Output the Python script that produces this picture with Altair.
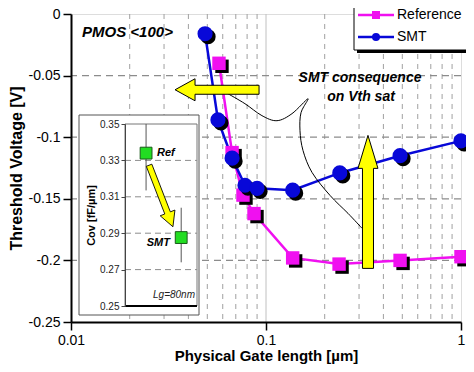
import altair as alt
import pandas as pd

# ---------------- data ----------------
lg_ref = [0.0574, 0.067, 0.0762, 0.0868, 0.137, 0.237, 0.487, 1.0]
vth_ref = [-0.040, -0.1125, -0.147, -0.162, -0.198, -0.203, -0.200, -0.197]
lg_smt = [0.0487, 0.0567, 0.067, 0.078, 0.090, 0.137, 0.239, 0.487, 1.0]
vth_smt = [-0.016, -0.086, -0.117, -0.139, -0.1415, -0.143, -0.129, -0.115, -0.103]

series_names = ["Reference", "SMT"]

inset_labels = ["Ref", "SMT"]
inset_pos = [1, 2]
inset_cov = [0.334, 0.2876]
inset_lo = [0.3135, 0.274]
inset_hi = [0.35, 0.304]

x_ticks = [0.01, 0.1, 1]
x_minor = [0.02, 0.03, 0.04, 0.05, 0.06, 0.07, 0.08, 0.09,
           0.2, 0.3, 0.4, 0.5, 0.6, 0.7, 0.8, 0.9]
x_mid = [0.1]
y_ticks = [0, -0.05, -0.1, -0.15, -0.2, -0.25]
y_grid = [-0.05, -0.1, -0.15, -0.2]
inset_ticks = [0.25, 0.27, 0.29, 0.31, 0.33, 0.35]
inset_grid = [0.27, 0.29, 0.31, 0.33]

# callout curve (data units)
callout_x = [0.0638, 0.078, 0.0953, 0.1138, 0.1359, 0.1642,
             0.1512, 0.1494, 0.1548, 0.1722, 0.2128, 0.2633, 0.3106]
callout_y = [-0.0647, -0.0728, -0.0825, -0.0866, -0.0809, -0.0688,
             -0.0801, -0.0947, -0.1108, -0.1286, -0.1472, -0.1618, -0.1739]
left_arrow_at = ([0.0561], [-0.0615])
up_arrow_at = ([0.3334], [-0.1525])

# ---------------- style ----------------
FONT = "Liberation Sans"
MAGENTA = "#F010F0"
BLUE = "#0808D8"
YELLOW = "#FFFF00"
GREEN = "#22DD22"

LEFT_ARROW = "M1,-0.107 L-0.524,-0.107 L-0.524,-0.262 L-1,0 L-0.524,0.262 L-0.524,0.107 L1,0.107 Z"
UP_ARROW = "M-0.083,1 L-0.083,-0.504 L-0.15,-0.504 L0,-1 L0.15,-0.504 L0.083,-0.504 L0.083,1 Z"
DOWN_ARROW = "M-0.09,-1 L0.09,-1 L0.09,0.55 L0.24,0.55 L0,1 L-0.24,0.55 L-0.09,0.55 Z"

xs = alt.Scale(type="log", domain=[0.01, 1], nice=False)
ys = alt.Scale(domain=[-0.25, 0], nice=False, zero=False)

x_axis = alt.Axis(orient="bottom", values=x_ticks, title="Physical Gate length [µm]",
                  labelExpr="format(datum.value, '~g')", grid=False, zindex=1,
                  tickSize=8, tickWidth=1.5, tickColor="black",
                  labelPadding=3, titlePadding=1, labelFontSize=14, titleFontSize=15,
                  titleFontWeight="bold", domainColor="black", domainWidth=2,
                  labelColor="black", titleColor="black", labelFont=FONT, titleFont=FONT,
                  labelFlush=False)
y_axis = alt.Axis(orient="left", values=y_ticks, title="Threshold Voltage [V]",
                  labelExpr="datum.value == 0 ? '0' : '-' + format(-datum.value, '~g')",
                  grid=False, zindex=1, tickSize=8, tickWidth=1.5, tickColor="black",
                  labelPadding=3, titlePadding=4, labelFontSize=14, titleFontSize=16,
                  titleFontWeight="bold", domainColor="black", domainWidth=2,
                  labelColor="black", titleColor="black", labelFont=FONT, titleFont=FONT,
                  labelFlush=False)


def X(f):
    return alt.X(f, type="quantitative", scale=xs, axis=x_axis)


def Y(f):
    return alt.Y(f, type="quantitative", scale=ys, axis=y_axis)


one = pd.DataFrame({"k": [0]})

# ---------------- grid ----------------
vg = alt.Chart(pd.DataFrame({"lg": x_minor})).mark_rule(
    color="#a0a0a0", strokeDash=[5, 5], strokeWidth=1).encode(
    x=alt.X("lg:Q", scale=xs, axis=None))
vm = alt.Chart(pd.DataFrame({"lg": x_mid})).mark_rule(
    color="#c0c0c0", strokeWidth=1).encode(x=alt.X("lg:Q", scale=xs, axis=None))
hg = alt.Chart(pd.DataFrame({"v": y_grid})).mark_rule(
    color="#8c8c8c", strokeDash=[7, 5], strokeWidth=1.3).encode(
    y=alt.Y("v:Q", scale=ys, axis=None))
grid_layer = alt.layer(vg, vm, hg)

# ---------------- inset ----------------
inset_df = pd.DataFrame({"label": inset_labels, "pos": inset_pos, "cov": inset_cov,
                         "lo": inset_lo, "hi": inset_hi})
xi = alt.Scale(domain=[0.4, 2.45], range=[54, 126])
yi = alt.Scale(domain=[0.25, 0.35], range=[292, 110], nice=False, zero=False)
yi_axis = alt.Axis(orient="left", offset=-54, values=inset_ticks, format=".2f",
                   title="Cov [fF/µm]", grid=False, zindex=2, tickSize=4, tickColor="#444",
                   labelFontSize=10, titleFontSize=11, titleFontWeight="bold",
                   titlePadding=3, labelPadding=2, domainColor="#444", domainWidth=1,
                   labelColor="#222", titleColor="black", labelFont=FONT, titleFont=FONT)


def XI(f):
    return alt.X(f, type="quantitative", scale=xi, axis=None)


def YI(f):
    return alt.Y(f, type="quantitative", scale=yi, axis=yi_axis)


outer_box = alt.Chart(one).mark_rect(fill="white", stroke="#555", strokeWidth=1).encode(
    x=alt.value(8), x2=alt.value(128), y=alt.value(101), y2=alt.value(301))
inner_box = alt.Chart(one).mark_rect(fill="white", stroke="#777", strokeWidth=1).encode(
    x=alt.value(54), x2=alt.value(126), y=alt.value(110), y2=alt.value(292))
igrid = alt.Chart(pd.DataFrame({"g": inset_grid})).mark_rule(
    color="#8c8c8c", strokeDash=[6, 4], strokeWidth=1).encode(
    y=YI("g"), x=alt.value(54), x2=alt.value(126))
ibottom = alt.Chart(one).mark_rule(color="black", strokeWidth=2).encode(
    x=alt.value(54), x2=alt.value(126), y=alt.value(292))
ierr = alt.Chart(inset_df).mark_rule(color="#555", strokeWidth=1).encode(
    x=XI("pos"), y=YI("lo"), y2="hi")
ipts = alt.Chart(inset_df).mark_point(shape="square", filled=True, fill=GREEN,
                                      stroke="#1a5a1a", strokeWidth=1, size=140,
                                      opacity=1).encode(x=XI("pos"), y=YI("cov"))
iarrow = alt.Chart(one).mark_point(shape=DOWN_ARROW, filled=True, fill=YELLOW,
                                   stroke="black", strokeWidth=0.8, size=4356,
                                   angle=338.8, opacity=1).encode(
    x=alt.value(90), y=alt.value(182))
t_ref = alt.Chart(one).mark_text(text="Ref", font=FONT, fontSize=11, fontWeight="bold",
                                 fontStyle="italic", align="left", baseline="middle",
                                 color="black").encode(x=alt.value(86), y=alt.value(139))
t_smt = alt.Chart(one).mark_text(text="SMT", font=FONT, fontSize=11, fontWeight="bold",
                                 fontStyle="italic", align="right", baseline="middle",
                                 color="black").encode(x=alt.value(99), y=alt.value(229))
t_lg = alt.Chart(one).mark_text(text="Lg=80nm", font=FONT, fontSize=10,
                                fontStyle="italic", align="right", baseline="middle",
                                color="#222").encode(x=alt.value(124), y=alt.value(281))
inset_layer = alt.layer(outer_box, inner_box, igrid, ibottom, ierr, iarrow, ipts,
                        t_ref, t_smt, t_lg)

# ---------------- main data ----------------
ref_df = pd.DataFrame({"lg": lg_ref, "vth": vth_ref})
smt_df = pd.DataFrame({"lg": lg_smt, "vth": vth_smt})
call_df = pd.DataFrame({"x": callout_x, "y": callout_y, "i": list(range(len(callout_x)))})

ref_line = alt.Chart(ref_df).mark_line(color=MAGENTA, strokeWidth=2.5).encode(
    x=X("lg"), y=Y("vth"))
ref_sh = alt.Chart(ref_df).mark_point(shape="square", filled=True, color="black",
                                      size=180, opacity=1).encode(
    x=X("lg"), y=Y("vth"), xOffset=alt.value(3), yOffset=alt.value(3))
ref_pts = alt.Chart(ref_df).mark_point(shape="square", filled=True, color=MAGENTA,
                                       size=180, opacity=1).encode(x=X("lg"), y=Y("vth"))
smt_line = alt.Chart(smt_df).mark_line(color=BLUE, strokeWidth=2.5).encode(
    x=X("lg"), y=Y("vth"))
smt_sh = alt.Chart(smt_df).mark_point(shape="circle", filled=True, color="black",
                                      size=230, opacity=1).encode(
    x=X("lg"), y=Y("vth"), xOffset=alt.value(3), yOffset=alt.value(3))
smt_pts = alt.Chart(smt_df).mark_point(shape="circle", filled=True, color=BLUE,
                                       size=230, opacity=1).encode(x=X("lg"), y=Y("vth"))
callout = alt.Chart(call_df).mark_line(color="black", strokeWidth=1,
                                       interpolate="cardinal").encode(
    x=X("x"), y=Y("y"), order="i:Q")
left_arrow = alt.Chart(pd.DataFrame({"x": left_arrow_at[0], "y": left_arrow_at[1]})).mark_point(
    shape=LEFT_ARROW, filled=True, fill=YELLOW, stroke="black", strokeWidth=1,
    size=7056, opacity=1).encode(x=X("x"), y=Y("y"))
up_arrow = alt.Chart(pd.DataFrame({"x": up_arrow_at[0], "y": up_arrow_at[1]})).mark_point(
    shape=UP_ARROW, filled=True, fill=YELLOW, stroke="black", strokeWidth=1,
    size=17689, opacity=1).encode(x=X("x"), y=Y("y"))

t_pmos = alt.Chart(one).mark_text(text="PMOS <100>", font=FONT, fontSize=15,
                                  fontWeight="bold", fontStyle="italic", align="left",
                                  baseline="middle", color="black").encode(
    x=alt.value(11), y=alt.value(18))
t_cons1 = alt.Chart(one).mark_text(text="SMT consequence", font=FONT, fontSize=14,
                                   fontWeight="bold", fontStyle="italic", align="center",
                                   baseline="middle", color="black").encode(
    x=alt.value(289), y=alt.value(64))
t_cons2 = alt.Chart(one).mark_text(text="on Vth sat", font=FONT, fontSize=14,
                                   fontWeight="bold", fontStyle="italic", align="center",
                                   baseline="middle", color="black").encode(
    x=alt.value(290), y=alt.value(83))

# ---------------- legend (manual) ----------------
leg_sh = alt.Chart(one).mark_rect(fill="black").encode(
    x=alt.value(286), x2=alt.value(420), y=alt.value(-16), y2=alt.value(39))
leg_box = alt.Chart(one).mark_rect(fill="white", stroke="black", strokeWidth=1).encode(
    x=alt.value(283), x2=alt.value(417), y=alt.value(-19), y2=alt.value(36))
leg_l1 = alt.Chart(one).mark_rule(color=MAGENTA, strokeWidth=2.5).encode(
    x=alt.value(287), x2=alt.value(323), y=alt.value(1))
leg_p1 = alt.Chart(one).mark_point(shape="square", filled=True, color=MAGENTA, size=64,
                                   opacity=1).encode(x=alt.value(305), y=alt.value(1))
leg_t1 = alt.Chart(one).mark_text(text=series_names[0], font=FONT, fontSize=14,
                                  align="left", baseline="middle", color="black").encode(
    x=alt.value(326), y=alt.value(1))
leg_l2 = alt.Chart(one).mark_rule(color=BLUE, strokeWidth=2.5).encode(
    x=alt.value(287), x2=alt.value(323), y=alt.value(23))
leg_p2 = alt.Chart(one).mark_point(shape="circle", filled=True, color=BLUE, size=64,
                                   opacity=1).encode(x=alt.value(305), y=alt.value(23))
leg_t2 = alt.Chart(one).mark_text(text=series_names[1], font=FONT, fontSize=14,
                                  align="left", baseline="middle", color="black").encode(
    x=alt.value(326), y=alt.value(23))

data_layer = alt.layer(ref_line, smt_line, ref_sh, ref_pts, smt_sh, smt_pts, callout,
                       left_arrow, up_arrow, t_pmos, t_cons1, t_cons2,
                       leg_sh, leg_box, leg_l1, leg_p1, leg_t1, leg_l2, leg_p2, leg_t2)

chart = alt.layer(grid_layer, inset_layer, data_layer).resolve_scale(
    x="independent", y="independent"
).properties(
    width=390, height=308,
    padding={"left": 63, "top": 6, "right": 5, "bottom": 42},
    autosize=alt.AutoSizeParams(type="none"),
    background="white",
).configure_view(stroke="black", strokeWidth=2).configure(font=FONT)

chart.save("out.html", embed_options={"renderer": "svg", "actions": False})
